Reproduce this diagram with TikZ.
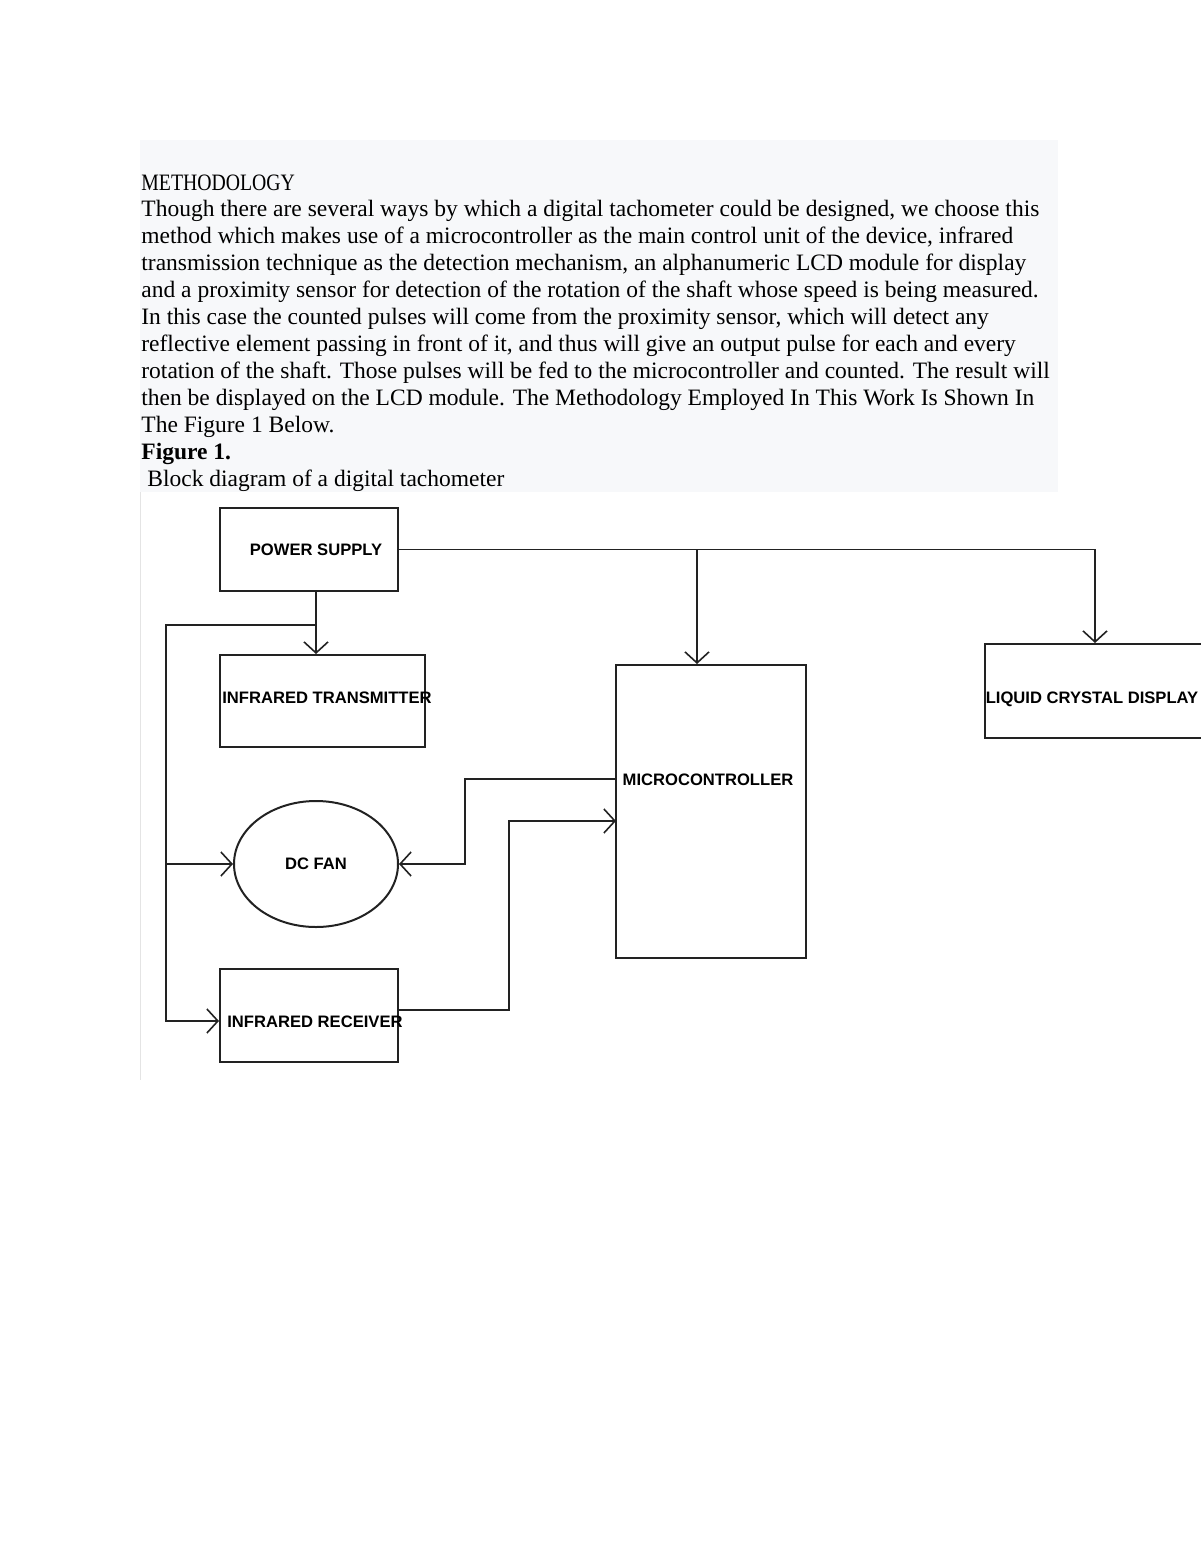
\documentclass[tikz,border=0pt]{standalone}
\usepackage{fontspec}
\setmainfont{Liberation Serif}
\newfontfamily\blockfont{Liberation Sans}
\usepackage{xcolor}
\usepackage{tikz}
\usetikzlibrary{arrows.meta,positioning,calc,shapes.geometric}
\definecolor{paper}{HTML}{F7F8FA}
\definecolor{edge}{HTML}{E4E4E4}
\definecolor{ink}{HTML}{222222}
\tikzset{
  Block/.style={
    draw=ink, line width=1pt, inner sep=0pt,
    font=\blockfont\bfseries\fontsize{8.3}{9}\selectfont
  },
  % text sits off centre in the box: #1 = centre above baseline
  TextLift/.style={text height=#1, text depth=0pt},
  TextDrop/.style={text height=6pt, text depth=#1},
  Wire/.style={
    draw=ink, line width=0.9pt,
    -{Straight Barb[length=5.5pt,width=12pt,line width=0.8pt]}
  },
  Para/.style={
    inner sep=0pt, align=left,
    font=\fontsize{11.75}{13.5}\selectfont
  }
}
% label that may run past its box, moved right by #1/2
\newcommand{\BoxTag}[2]{\makebox[0pt]{\hspace*{#1}#2}}

\begin{document}
\begin{tikzpicture}[x=0.5pt, y=-0.5pt, line cap=butt, line join=miter]
  \useasboundingbox (0,0) rectangle (1200,1553);

  % text panel
  \fill[paper] (140,140) rectangle (1058,492);
  \draw[edge] (140,492) -- (140,1080);

  \node[Para, anchor=base west] (heading) at (141,190)
    {\scalebox{0.84}[1]{METHODOLOGY}};
  \node[Para, anchor=north west] (body) at (141,200)
    {Though there are several ways by which a digital tachometer could be designed, we choose this\\
     method which makes use of a microcontroller as the main control unit of the device, infrared\\
     transmission technique as the detection mechanism, an alphanumeric LCD module for display\\
     and a proximity sensor for detection of the rotation of the shaft whose speed is being measured.\\
     In this case the counted pulses will come from the proximity sensor, which will detect any\\
     reflective element passing in front of it, and thus will give an output pulse for each and every\\
     rotation of the shaft. Those pulses will be fed to the microcontroller and counted. The result will\\
     then be displayed on the LCD module. The Methodology Employed In This Work Is Shown In\\
     The Figure 1 Below.\\
     \textbf{Figure 1.}\\
     \hspace*{3pt}Block diagram of a digital tachometer};

  % blocks
  \node[Block, minimum width=89pt, minimum height=41.5pt] (psu) at (309,549.5)
    {\BoxTag{7pt}{POWER SUPPLY}};
  \node[Block, minimum width=102.5pt, minimum height=46pt, TextDrop=4pt] (irtx) at (322.5,701)
    {\BoxTag{4.5pt}{INFRARED TRANSMITTER}};
  \node[Block, ellipse, minimum width=82pt, minimum height=63pt] (fan) at (316,864) {DC FAN};
  \node[Block, minimum width=89pt, minimum height=46.5pt, TextLift=11.5pt] (irrx) at (309,1015.5)
    {\BoxTag{6pt}{INFRARED RECEIVER}};
  \node[Block, minimum width=95pt, minimum height=146.5pt] (mcu) at (711,811.5) {};
  \node[Block, draw=none] (mcutext) at (708,780) {MICROCONTROLLER};
  \node[Block, minimum width=110pt, minimum height=47pt, TextLift=12pt] (lcd) at (1095,691)
    {\BoxTag{-3pt}{LIQUID CRYSTAL DISPLAY}};

  % supply rails
  \coordinate (tap) at (697,549.5);
  \coordinate (split) at (316,625);
  \coordinate (rail) at (166,864);
  \draw[Wire] (psu.east) -| (lcd.north);
  \draw[Wire] (tap) -- (tap |- mcu.north);
  \draw[Wire] (split |- psu.south) -- (split |- irtx.north);
  \draw[Wire] (split) -| (rail) |- ([yshift=-2.75pt]irrx.west);
  \draw[Wire] (rail) -- (fan.west);

  % signal paths
  \coordinate (mcuout) at (616,779);
  \coordinate (mcuin) at (616,821);
  \draw[Wire] (mcuout) -- ++(-151,0) |- (fan.east);
  \draw[Wire] ([yshift=2.75pt]irrx.east) -- ++(110,0) |- (mcuin);
\end{tikzpicture}
\end{document}
